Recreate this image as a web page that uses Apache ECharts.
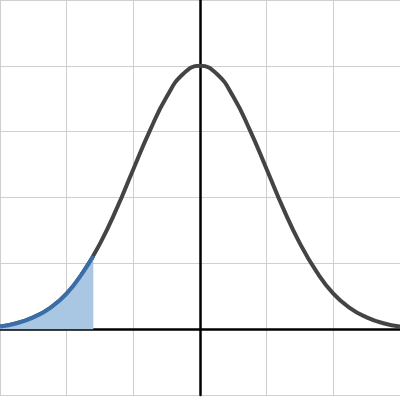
<!DOCTYPE html>
<html><head><meta charset="utf-8">
<script src="https://cdn.jsdelivr.net/npm/echarts@6/dist/echarts.min.js"></script>
<style>html,body{margin:0;padding:0;background:#fff}#c{width:400px;height:400px}</style>
</head><body><div id="c"></div>
<script>
const curveX = [-3,-2.75,-2.5,-2.25,-2,-1.75,-1.5,-1.25,-1,-0.75,-0.5,-0.25,0,0.25,0.5,0.75,1,1.25,1.5,1.75,2,2.25,2.5,2.75,3];
const curveY = [0.04,0.09,0.18,0.32,0.54,0.87,1.30,1.83,2.43,3.02,3.53,3.88,4,3.88,3.53,3.02,2.43,1.83,1.30,0.87,0.54,0.32,0.18,0.09,0.04];
const shadeX = [-3,-2.75,-2.5,-2.25,-2,-1.75,-1.6];
const shadeY = [0.04,0.09,0.18,0.32,0.54,0.87,1.11];
const chart = echarts.init(document.getElementById('c'));
const axisCommon = {
  axisLabel:{show:false}, axisTick:{show:false},
  axisLine:{onZero:true, lineStyle:{color:'#000', width:2.5}},
  splitLine:{show:true, lineStyle:{color:'#cfcfcf', width:1}}
};
chart.setOption({
  animation:false,
  grid:{left:0,right:0,top:-5,bottom:5},
  xAxis:Object.assign({type:'value',min:-3,max:3,interval:1},axisCommon),
  yAxis:Object.assign({type:'value',min:-1,max:5,interval:1},axisCommon),
  series:[
    {type:'line', data:shadeX.map((x,i)=>[x,shadeY[i]]), smooth:true, symbol:'none',
     lineStyle:{color:'#3a6ea8', width:4}, areaStyle:{color:'#a9c6e3', opacity:1}, z:3},
    {type:'line', data:curveX.map((x,i)=>[x,curveY[i]]), smooth:true, symbol:'none',
     lineStyle:{color:'#444', width:4}, z:2}
  ]
});
</script></body></html>
